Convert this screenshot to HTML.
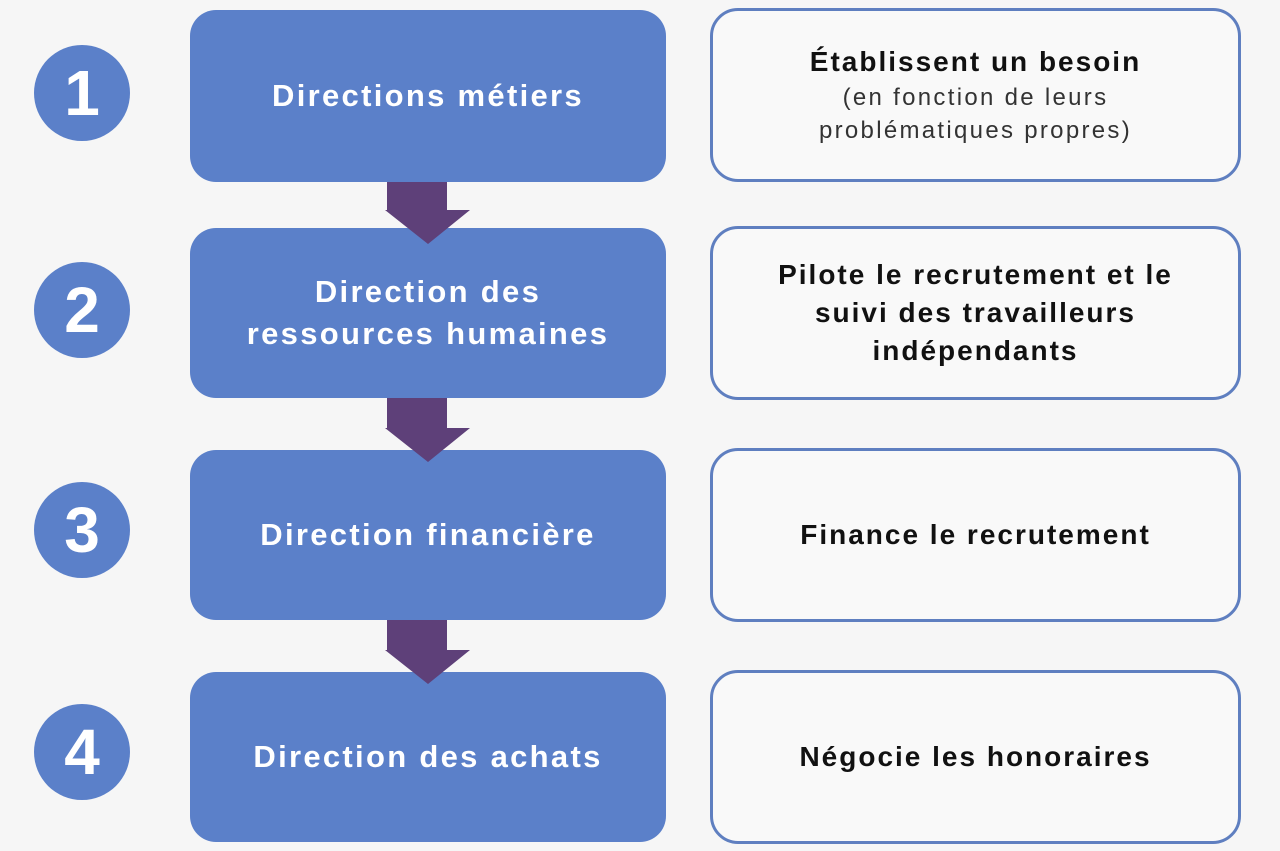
<!DOCTYPE html>
<html><head><meta charset="utf-8"><style>
body{margin:0;width:1280px;height:851px;background:#f6f6f6;position:relative;overflow:hidden;font-family:"Liberation Sans",sans-serif}
.c{position:absolute;left:34px;width:96px;height:96px;border-radius:50%;background:#5b80c9;color:#fff;font-weight:bold;font-size:64px;line-height:96px;text-align:center}
.b{position:absolute;left:190px;width:476px;border-radius:26px;background:#5b80c9;color:#fff;font-weight:bold;font-size:31px;letter-spacing:2.3px;display:flex;align-items:center;justify-content:center;text-align:center;line-height:42px}
.r{position:absolute;left:710px;width:525px;border:3px solid #5f7fc0;border-radius:28px;background:#f9f9f9;color:#111;font-weight:bold;font-size:28px;letter-spacing:2px;display:flex;align-items:center;justify-content:center;text-align:center;line-height:38px;flex-direction:column}
.s{font-weight:normal;font-size:24px;letter-spacing:2.3px;line-height:33px;color:#333}
svg{position:absolute;left:0;top:0}
</style></head><body>
<div class="c" style="top:45px">1</div>
<div class="c" style="top:262px">2</div>
<div class="c" style="top:482px">3</div>
<div class="c" style="top:704px">4</div>
<div class="b" style="top:10px;height:172px">Directions métiers</div>
<div class="b" style="top:228px;height:170px">Direction des<br>ressources humaines</div>
<div class="b" style="top:450px;height:170px">Direction financière</div>
<div class="b" style="top:672px;height:170px">Direction des achats</div>
<svg width="1280" height="851">
<g fill="#5e4079">
<polygon points="387,182 447,182 447,210 470,210 428,244 385,210 387,210"/>
<polygon points="387,398 447,398 447,428 470,428 428,462 385,428 387,428"/>
<polygon points="387,620 447,620 447,650 470,650 428,684 385,650 387,650"/>
</g></svg>
<div class="r" style="top:8px;height:168px"><div>Établissent un besoin</div><div class="s">(en fonction de leurs<br>problématiques propres)</div></div>
<div class="r" style="top:226px;height:168px">Pilote le recrutement et le<br>suivi des travailleurs<br>indépendants</div>
<div class="r" style="top:448px;height:168px">Finance le recrutement</div>
<div class="r" style="top:670px;height:168px">Négocie les honoraires</div>
</body></html>
